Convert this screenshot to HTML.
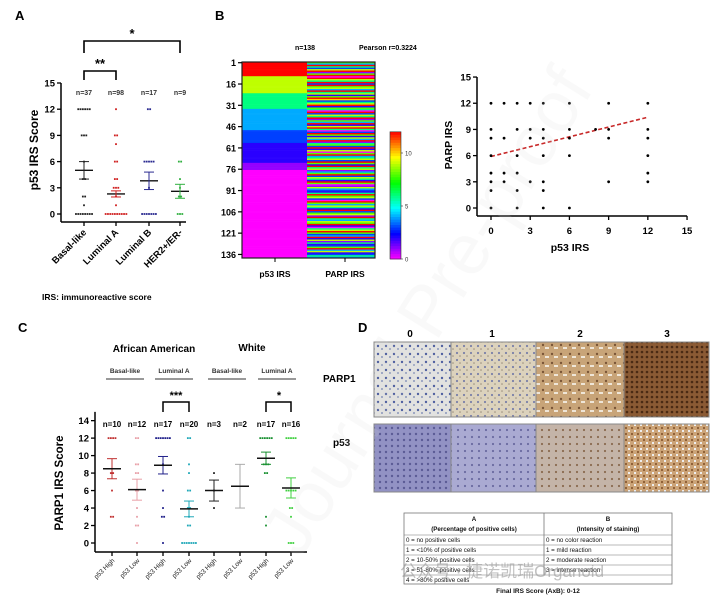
<!DOCTYPE html>
<html><head><meta charset="utf-8">
<style>
html,body{margin:0;padding:0;background:#fff;}
svg{display:block;font-family:"Liberation Sans","Noto Sans CJK SC",sans-serif;}
.b{font-weight:bold;}
</style></head>
<body>
<svg id="fig" width="720" height="597" viewBox="0 0 720 597" xmlns="http://www.w3.org/2000/svg">
<defs>
<pattern id="p00" width="8" height="8" patternUnits="userSpaceOnUse"><rect width="8" height="8" fill="#e2e2e0"/><circle cx="2" cy="2" r="1.2" fill="#5060a0"/><circle cx="6" cy="5" r="0.9" fill="#7080b0"/></pattern>
<pattern id="p01" width="7" height="7" patternUnits="userSpaceOnUse"><rect width="7" height="7" fill="#dcd2bc"/><circle cx="2" cy="3" r="1.1" fill="#7a80a8"/><circle cx="5" cy="6" r="0.8" fill="#9a8e7c"/></pattern>
<pattern id="p02" width="9" height="9" patternUnits="userSpaceOnUse"><rect width="9" height="9" fill="#c8a478"/><circle cx="3" cy="3" r="1.2" fill="#7a5638"/><rect x="5" y="5" width="4" height="2" fill="#efe6d8"/></pattern>
<pattern id="p03" width="5" height="5" patternUnits="userSpaceOnUse"><rect width="5" height="5" fill="#8a5a34"/><circle cx="2" cy="2" r="1.3" fill="#4a2a14"/></pattern>
<pattern id="p10" width="6" height="6" patternUnits="userSpaceOnUse"><rect width="6" height="6" fill="#9292c4"/><circle cx="2" cy="2" r="1.2" fill="#5c5c96"/></pattern>
<pattern id="p11" width="7" height="7" patternUnits="userSpaceOnUse"><rect width="7" height="7" fill="#aaaad2"/><circle cx="3" cy="3" r="1.1" fill="#6a6aa0"/></pattern>
<pattern id="p12" width="7" height="7" patternUnits="userSpaceOnUse"><rect width="7" height="7" fill="#c4b4a8"/><circle cx="3" cy="3" r="1.1" fill="#8a6a50"/></pattern>
<pattern id="p13" width="6" height="6" patternUnits="userSpaceOnUse"><rect width="6" height="6" fill="#cca478"/><circle cx="2" cy="2" r="1.1" fill="#8a5a30"/><rect x="4" y="4" width="2" height="2" fill="#eee"/></pattern>
</defs>
<g id="A"></g>
<g id="B"></g>
<g id="S"></g>
<g id="C"></g>
<g id="D">
<text x="358" y="332" font-size="13" class="b">D</text>
<text x="410" y="337" font-size="10" class="b" text-anchor="middle">0</text>
<text x="492" y="337" font-size="10" class="b" text-anchor="middle">1</text>
<text x="580" y="337" font-size="10" class="b" text-anchor="middle">2</text>
<text x="667" y="337" font-size="10" class="b" text-anchor="middle">3</text>
<text x="323" y="382" font-size="10" class="b">PARP1</text>
<text x="333" y="446" font-size="10" class="b">p53</text>
<g stroke="#888" stroke-width="1">
<rect x="374" y="342" width="77" height="75" fill="url(#p00)"/>
<rect x="451" y="342" width="85" height="75" fill="url(#p01)"/>
<rect x="536" y="342" width="88" height="75" fill="url(#p02)"/>
<rect x="624" y="342" width="85" height="75" fill="url(#p03)"/>
<rect x="374" y="424" width="77" height="68" fill="url(#p10)"/>
<rect x="451" y="424" width="85" height="68" fill="url(#p11)"/>
<rect x="536" y="424" width="88" height="68" fill="url(#p12)"/>
<rect x="624" y="424" width="85" height="68" fill="url(#p13)"/>
</g>
<g font-size="6.2" fill="#111">
<rect x="404" y="513" width="268" height="71" fill="none" stroke="#777" stroke-width="0.8"/>
<line x1="544" y1="513" x2="544" y2="575" stroke="#777" stroke-width="0.8"/>
<g stroke="#777" stroke-width="0.6">
<line x1="404" y1="535" x2="672" y2="535"/><line x1="404" y1="545" x2="672" y2="545"/>
<line x1="404" y1="555" x2="672" y2="555"/><line x1="404" y1="565" x2="672" y2="565"/><line x1="404" y1="575" x2="672" y2="575"/>
</g>
<text x="474" y="521" text-anchor="middle" class="b">A</text>
<text x="474" y="531" text-anchor="middle" class="b">(Percentage of positive cells)</text>
<text x="608" y="521" text-anchor="middle" class="b">B</text>
<text x="608" y="531" text-anchor="middle" class="b">(Intensity of staining)</text>
<text x="406" y="542">0 = no positive cells</text><text x="546" y="542">0 = no color reaction</text>
<text x="406" y="552">1 = &lt;10% of positive cells</text><text x="546" y="552">1 = mild reaction</text>
<text x="406" y="562">2 = 10-50% positive cells</text><text x="546" y="562">2 = moderate reaction</text>
<text x="406" y="572">3 = 51-80% positive cells</text><text x="546" y="572">3 = intense reaction</text>
<text x="406" y="582">4 = &gt;80% positive cells</text>
<text x="538" y="593" text-anchor="middle" class="b" font-size="6.5">Final IRS Score (AxB): 0-12</text>
</g>
<text x="400" y="577" font-size="17" fill="#999" opacity="0.6">公众号 · 捷诺凯瑞Organoid</text>
</g>
<text x="300" y="560" font-size="72" fill="#ddd" opacity="0.15" transform="rotate(-58 300 560)">Journal Pre-proof</text>
</svg>
<script>
// ---------- data ----------
const aCats=["Basal-like","Luminal A","Luminal B","HER2+/ER-"];
const aN=["n=37","n=98","n=17","n=9"];
const aMean=[5,2.3,3.8,2.6];
const aSem=[1.0,0.35,1.0,0.8];
const aPts=[[12,12,12,12,12,12,9,9,9,6,4,4,2,2,1,0,0,0,0,0,0,0,0],[12,9,9,8,6,6,4,4,3,3,3,2,1,0,0,0,0,0,0,0,0,0,0],[12,12,6,6,6,6,6,3,0,0,0,0,0,0,0],[6,6,4,3,2,2,0,0,0]];
const aTicks=[0,3,6,9,12,15];

const p53Rows=[12,12,12,12,12,12,12,12,12,12,9,9,9,9,9,9,9,9,9,9,9,9,6,6,6,6,6,6,6,6,6,6,6,4,4,4,4,4,4,4,4,4,4,4,4,4,4,4,3,3,3,3,3,3,3,3,3,2,2,2,2,2,2,2,2,2,2,2,2,2,2,1,1,1,1,1,0,0,0,0,0,0,0,0,0,0,0,0,0,0,0,0,0,0,0,0,0,0,0,0,0,0,0,0,0,0,0,0,0,0,0,0,0,0,0,0,0,0,0,0,0,0,0,0,0,0,0,0,0,0,0,0,0,0,0,0,0,0];
const parpRows=[8,4,12,6,3,9,12,1,8,12,0,12,9,6,12,3,12,8,9,4,12,6,9,2,8,12,10,3,6,9,12,2,8,6,0,12,3,9,6,12,1,8,4,12,2,9,12,6,0,3,12,8,2,9,4,12,1,6,8,3,12,2,9,0,8,12,4,6,9,3,12,8,2,12,6,9,1,4,8,12,3,9,6,2,12,8,0,1,9,4,3,2,6,12,8,9,3,0,12,8,4,9,6,2,12,3,8,9,1,12,6,4,9,8,12,2,0,6,9,12,8,3,4,12,2,9,1,6,2,3,8,12,4,9,2,3,6,4];
const hmTicks=[1,16,31,46,61,76,91,106,121,136];
const cbTicks=[0,5,10];

const scX=[0,0,0,0,0,0,0,0,1,1,1,1,2,2,2,2,2,2,3,3,3,3,4,4,4,4,4,4,4,6,6,6,6,6,8,9,9,9,9,12,12,12,12,12,12];
const scY=[12,9,8,6,4,3,2,0,12,8,4,3,12,9,6,4,2,0,12,9,8,3,12,9,8,6,3,2,0,12,9,8,6,0,9,12,9,8,3,12,9,8,6,4,3];
const scFit=[5.9,10.4];
const scTicks=[0,3,6,9,12,15];

const cCats=["p53 High","p53 Low","p53 High","p53 Low","p53 High","p53 Low","p53 High","p53 Low"];
const cN=["n=10","n=12","n=17","n=20","n=3","n=2","n=17","n=16"];
const cMean=[8.5,6.1,8.9,3.9,6.0,6.5,9.7,6.3];
const cSem=[1.15,1.2,1.0,0.9,1.2,2.5,0.7,1.15];
const cPts=[[12,12,12,12,8,8,6,3,3],[12,12,9,9,8,8,6,6,4,3,2,2,0],[12,12,12,12,12,12,12,9,6,4,3,3,0],[12,12,9,8,6,6,4,4,3,2,2,0,0,0,0,0,0,0],[8,6,4],[],[12,12,12,12,12,12,9,9,9,8,8,3,2],[12,12,12,12,12,6,6,6,6,6,4,4,3,0,0,0]];
const cTicks=[0,2,4,6,8,10,12,14];

// ---------- helpers ----------
const NS="http://www.w3.org/2000/svg";
function mk(parent,tag,attrs,text){const e=document.createElementNS(NS,tag);for(const k in attrs)e.setAttribute(k,attrs[k]);if(text!==undefined)e.textContent=text;parent.appendChild(e);return e;}
function hue(v){return "hsl("+(300*(1-v/12))+",100%,50%)";}
function dots(g,vals,cx,yf,color,name){const cnt={};vals.forEach(v=>cnt[v]=(cnt[v]||0)+1);const seen={};vals.forEach(v=>{const n=cnt[v];seen[v]=(seen[v]||0);const off=(seen[v]-(n-1)/2)*2.3;seen[v]++;const c=mk(g,"rect",{x:cx+off-0.9,y:yf(v)-0.9,width:1.8,height:1.8,fill:color});});}

// ---------- Panel A ----------
(function(){
const g=document.getElementById("A");
const x0=61,yT=83,yB=214,vmax=15;const yf=v=>yB-(yB-yT)*v/vmax;
const xs=[84,116,149,180];const cols=["#222","#d02020","#2a2a90","#30b040"];
const t=mk(g,"text",{x:15,y:20,"font-size":13,class:"b"},"A");
mk(g,"line",{x1:x0,y1:yT,x2:x0,y2:222,stroke:"#000","stroke-width":1.5});
mk(g,"line",{x1:x0,y1:222,x2:186,y2:222,stroke:"#000","stroke-width":1.5});
aTicks.forEach(v=>{mk(g,"line",{x1:x0-4,y1:yf(v),x2:x0,y2:yf(v),stroke:"#000","stroke-width":1.3});const e=mk(g,"text",{x:x0-6,y:yf(v)+3.5,"font-size":9.5,class:"b","text-anchor":"end"},v);});
const yl=mk(g,"text",{x:0,y:0,"font-size":12,class:"b","text-anchor":"middle",transform:"translate(38,150) rotate(-90)"},"p53 IRS Score");
aCats.forEach((c,i)=>{const x=xs[i];mk(g,"line",{x1:x,y1:222,x2:x,y2:226,stroke:"#000","stroke-width":1.3});
const l=mk(g,"text",{x:0,y:0,"font-size":9.5,class:"b","text-anchor":"end",transform:`translate(${x+3},${233}) rotate(-45)`},c);
const n=mk(g,"text",{x:x,y:95,"font-size":7,class:"b","text-anchor":"middle",fill:"#333"},aN[i]);
dots(g,aPts[i],x,yf,cols[i],'a-point');
const m=mk(g,"line",{x1:x-9,y1:yf(aMean[i]),x2:x+9,y2:yf(aMean[i]),stroke:"#111","stroke-width":1.4});
const hi=yf(aMean[i]+aSem[i]),lo=yf(aMean[i]-aSem[i]);
mk(g,"line",{x1:x,y1:hi,x2:x,y2:lo,stroke:cols[i],"stroke-width":1});
mk(g,"line",{x1:x-5,y1:hi,x2:x+5,y2:hi,stroke:cols[i],"stroke-width":1});
mk(g,"line",{x1:x-5,y1:lo,x2:x+5,y2:lo,stroke:cols[i],"stroke-width":1});});
mk(g,"path",{d:"M84 53 V41 H180 V53",fill:"none",stroke:"#000","stroke-width":1.6});
mk(g,"text",{x:132,y:38,"font-size":13,class:"b","text-anchor":"middle"},"*");
mk(g,"path",{d:"M84 80 V71 H116 V80",fill:"none",stroke:"#000","stroke-width":1.6});
mk(g,"text",{x:100,y:68,"font-size":13,class:"b","text-anchor":"middle"},"**");
const f=mk(g,"text",{x:42,y:300,"font-size":8.5,class:"b"},"IRS: immunoreactive score");
})();

// ---------- Panel B heatmap ----------
(function(){
const g=document.getElementById("B");
const x0=242,xm=307,x1=375,yT=62,yB=258,N=p53Rows.length;const rh=(yB-yT)/N;
const t=mk(g,"text",{x:215,y:20,"font-size":13,class:"b"},"B");
mk(g,"text",{x:305,y:50,"font-size":7,class:"b","text-anchor":"middle"},"n=138");
mk(g,"text",{x:359,y:50,"font-size":7,class:"b"},"Pearson r=0.3224");
p53Rows.forEach((v,i)=>{const r=mk(g,"rect",{x:x0,y:yT+i*rh,width:xm-x0,height:rh+0.3,fill:hue(v)});});
parpRows.forEach((v,i)=>{const r=mk(g,"rect",{x:xm,y:yT+i*rh,width:x1-xm,height:rh+0.3,fill:hue(v)});});
mk(g,"rect",{x:x0,y:yT,width:x1-x0,height:yB-yT,fill:"none",stroke:"#222","stroke-width":1.2});
hmTicks.forEach(v=>{const y=yT+(v-0.5)*rh;mk(g,"line",{x1:x0-4,y1:y,x2:x0,y2:y,stroke:"#000","stroke-width":1.2});const e=mk(g,"text",{x:x0-6,y:y+3.5,"font-size":9,class:"b","text-anchor":"end"},v);});
[[275,"p53 IRS"],[345,"PARP IRS"]].forEach(([x,s])=>{mk(g,"line",{x1:x,y1:yB,x2:x,y2:yB+4,stroke:"#000"});const e=mk(g,"text",{x:x,y:277,"font-size":8.5,class:"b","text-anchor":"middle"},s);});
const cbx=390,cbw=11,cb0=259,cbPer=10.6;
for(let v=0;v<12;v+=0.25){mk(g,"rect",{x:cbx,y:cb0-(v+0.25)*cbPer,width:cbw,height:cbPer*0.25+0.4,fill:hue(v+0.125)});}
const cb=mk(g,"rect",{x:cbx,y:cb0-12*cbPer,width:cbw,height:12*cbPer,fill:"none",stroke:"#333","stroke-width":0.6});
cbTicks.forEach(v=>{mk(g,"line",{x1:cbx+cbw,y1:cb0-v*cbPer,x2:cbx+cbw+2,y2:cb0-v*cbPer,stroke:"#333","stroke-width":0.6});mk(g,"text",{x:cbx+cbw+4,y:cb0-v*cbPer+2.5,"font-size":6,fill:"#333"},v);});
})();

// ---------- Scatter ----------
(function(){
const g=document.getElementById("S");
const ax=477,ay=216,xf=v=>491+v*13.07,yf=v=>208-v*8.73;
mk(g,"line",{x1:ax,y1:yf(15),x2:ax,y2:ay,stroke:"#000","stroke-width":1.5});
mk(g,"line",{x1:ax,y1:ay,x2:xf(15),y2:ay,stroke:"#000","stroke-width":1.5});
scTicks.forEach(v=>{mk(g,"line",{x1:ax-4,y1:yf(v),x2:ax,y2:yf(v),stroke:"#000","stroke-width":1.3});mk(g,"text",{x:ax-6,y:yf(v)+3.5,"font-size":9.5,class:"b","text-anchor":"end"},v);
mk(g,"line",{x1:xf(v),y1:ay,x2:xf(v),y2:ay+4,stroke:"#000","stroke-width":1.3});mk(g,"text",{x:xf(v),y:ay+18,"font-size":9.5,class:"b","text-anchor":"middle"},v);});
const xt=mk(g,"text",{x:570,y:251,"font-size":10.5,class:"b","text-anchor":"middle"},"p53 IRS");
const yt=mk(g,"text",{x:0,y:0,"font-size":10.5,class:"b","text-anchor":"middle",transform:"translate(452,145) rotate(-90)"},"PARP IRS");
const fl=mk(g,"line",{x1:xf(0),y1:yf(scFit[0]),x2:xf(12),y2:yf(scFit[1]),stroke:"#c82828","stroke-width":1.6,"stroke-dasharray":"4 2.5"});
scX.forEach((x,i)=>{const c=mk(g,"circle",{cx:xf(x),cy:yf(scY[i]),r:1.4,fill:"#000"});});
})();

// ---------- Panel C ----------
(function(){
const g=document.getElementById("C");
const ax=95,ay=552,yf=v=>543-v*8.74;
const xs=[112,137,163,189,214,240,266,291];
const cols=["#c03030","#e8a0a8","#20208a","#20a8b8","#222","#aaa","#189030","#40d040"];
const t=mk(g,"text",{x:18,y:332,"font-size":13,class:"b"},"C");
mk(g,"text",{x:154,y:352,"font-size":10,class:"b","text-anchor":"middle"},"African American");
mk(g,"text",{x:252,y:351,"font-size":10,class:"b","text-anchor":"middle"},"White");
[[125,"Basal-like"],[174,"Luminal A"],[227,"Basal-like"],[277,"Luminal A"]].forEach(([x,s])=>{mk(g,"text",{x:x,y:373,"font-size":6.5,class:"b","text-anchor":"middle",fill:"#333"},s);mk(g,"line",{x1:x-19,y1:379,x2:x+19,y2:379,stroke:"#333","stroke-width":1});});
mk(g,"line",{x1:ax,y1:yf(15),x2:ax,y2:ay,stroke:"#000","stroke-width":1.5});
mk(g,"line",{x1:ax,y1:ay,x2:307,y2:ay,stroke:"#000","stroke-width":1.5});
cTicks.forEach(v=>{mk(g,"line",{x1:ax-4,y1:yf(v),x2:ax,y2:yf(v),stroke:"#000","stroke-width":1.3});mk(g,"text",{x:ax-6,y:yf(v)+3.5,"font-size":9.5,class:"b","text-anchor":"end"},v);});
const yl=mk(g,"text",{x:0,y:0,"font-size":11.5,class:"b","text-anchor":"middle",transform:"translate(63,483) rotate(-90)"},"PARP1 IRS Score");
cCats.forEach((c,i)=>{const x=xs[i];mk(g,"line",{x1:x,y1:ay,x2:x,y2:ay+4,stroke:"#000","stroke-width":1.3});
const l=mk(g,"text",{x:0,y:0,"font-size":6.5,"text-anchor":"end",fill:"#222",transform:`translate(${x+3},${561}) rotate(-45)`},c);
const n=mk(g,"text",{x:x,y:427,"font-size":8,class:"b","text-anchor":"middle"},cN[i]);
dots(g,cPts[i],x,yf,cols[i],'c-point');
const hi=yf(cMean[i]+cSem[i]),lo=yf(cMean[i]-cSem[i]);
mk(g,"line",{x1:x,y1:hi,x2:x,y2:lo,stroke:cols[i],"stroke-width":1});
mk(g,"line",{x1:x-5,y1:hi,x2:x+5,y2:hi,stroke:cols[i],"stroke-width":1});
mk(g,"line",{x1:x-5,y1:lo,x2:x+5,y2:lo,stroke:cols[i],"stroke-width":1});
const m=mk(g,"line",{x1:x-9,y1:yf(cMean[i]),x2:x+9,y2:yf(cMean[i]),stroke:"#111","stroke-width":1.5});});
mk(g,"path",{d:"M163 412 V402 H189 V412",fill:"none",stroke:"#000","stroke-width":1.5});
mk(g,"text",{x:176,y:399,"font-size":11,class:"b","text-anchor":"middle"},"***");
mk(g,"path",{d:"M266 412 V402 H291 V412",fill:"none",stroke:"#000","stroke-width":1.5});
mk(g,"text",{x:279,y:399,"font-size":11,class:"b","text-anchor":"middle"},"*");
})();
</script>
</body></html>
